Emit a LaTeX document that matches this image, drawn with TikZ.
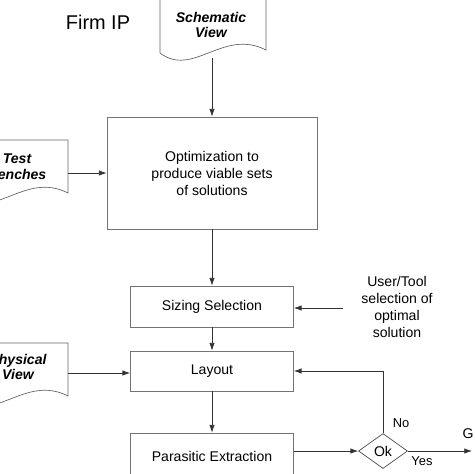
\documentclass[tikz,border=0pt]{standalone}
\usepackage{fontspec}
\setmainfont{Liberation Sans}
\usetikzlibrary{positioning, arrows.meta, shapes.geometric}

\begin{document}
\begin{tikzpicture}[
    % GLOBAL CFG
    x=0.03cm, y=-0.03cm,
    font=\fontsize{12}{14.5}\selectfont,
    >={Latex[length=2.3mm,width=1.6mm]},
    % Styles
    block/.style={% For the process boxes
        rectangle,
        draw=black!55,
        line width=0.6pt,
        align=center,
        },
    doc/.style={% For the document labels
        align=center,
        font=\fontsize{12}{13.6}\selectfont\bfseries\itshape,
        },
    decision/.style={% For the check
        diamond,
        draw=black!70,
        line width=0.6pt,
        inner sep=0pt,
        minimum width=1.47cm,
        minimum height=1.05cm,
        },
    small/.style={% For the branch labels
        font=\fontsize{11}{13}\selectfont,
        },
    flow/.style={% Arrows
        ->,
        line width=0.6pt,
        black!80,
        },
    ]
    \useasboundingbox (0,0) rectangle (474,474);

    % Draw the documents
    \foreach \xr/\yt/\yb in {266/-10/50, 68/140/193, 68/343/396}
        \draw[black!60, line width=0.6pt] (\xr-106,\yb+3) -- (\xr-106,\yt) -- (\xr,\yt) -- (\xr,\yb)
            .. controls (\xr-43,\yb-22) and (\xr-73,\yb+28) .. (\xr-106,\yb+3);

    \node[font=\fontsize{17}{20}\selectfont] (firm) at (98,22) {Firm IP};

    \node[doc] (schem) at (211,25) {Schematic\\View};
    \node[doc] (test) at (17,167) {Test\\Benches};
    \node[doc] (phys) at (18,367) {Physical\\View};

    \coordinate (schem_out) at (212,58);
    \coordinate (test_out) at (68,173);
    \coordinate (phys_out) at (68,373);

    % Draw the process boxes
    \node[block, minimum width=6.3cm, minimum height=3.36cm] (opt) at (212,173)
        {Optimization to\\produce viable sets\\of solutions};
    \node[block, minimum width=4.89cm, minimum height=1.23cm] (sizing) at (212,306.5) {Sizing Selection};
    \node[block, minimum width=4.89cm, minimum height=1.2cm] (layout) at (212,371) {Layout};
    \node[block, minimum width=4.89cm, minimum height=1.38cm] (para) at (212,456) {Parasitic Extraction};

    % Draw the check and the labels
    \node[decision] (ok) at (383,451) {Ok};
    \node[align=center] (user) at (397,307) {User/Tool\\selection of\\optimal\\solution};
    \coordinate (user_in) at (343,308);
    \coordinate (go) at (472,451);
    \node[small] (no) at (401,423) {No};
    \node[small] (yes) at (422,461) {Yes};
    \node (go_lbl) at (468,434) {G};

    % Connect all
    \draw[flow] (schem_out) -- (opt);
    \draw[flow] (test_out) -- (test_out -| opt.west);
    \draw[flow] (opt) -- (sizing);
    \draw[flow] (sizing) -- (layout);
    \draw[flow] (layout) -- (para);
    \draw[flow] (phys_out) -- (phys_out -| layout.west);
    \draw[flow] (user_in) -- (user_in -| sizing.east);
    \draw[flow] (ok.west -| para.east) -- (ok.west);
    \draw[flow] (ok.north) |- (layout.east);
    \draw[flow] (ok.east) -- (go);

\end{tikzpicture}
\end{document}
